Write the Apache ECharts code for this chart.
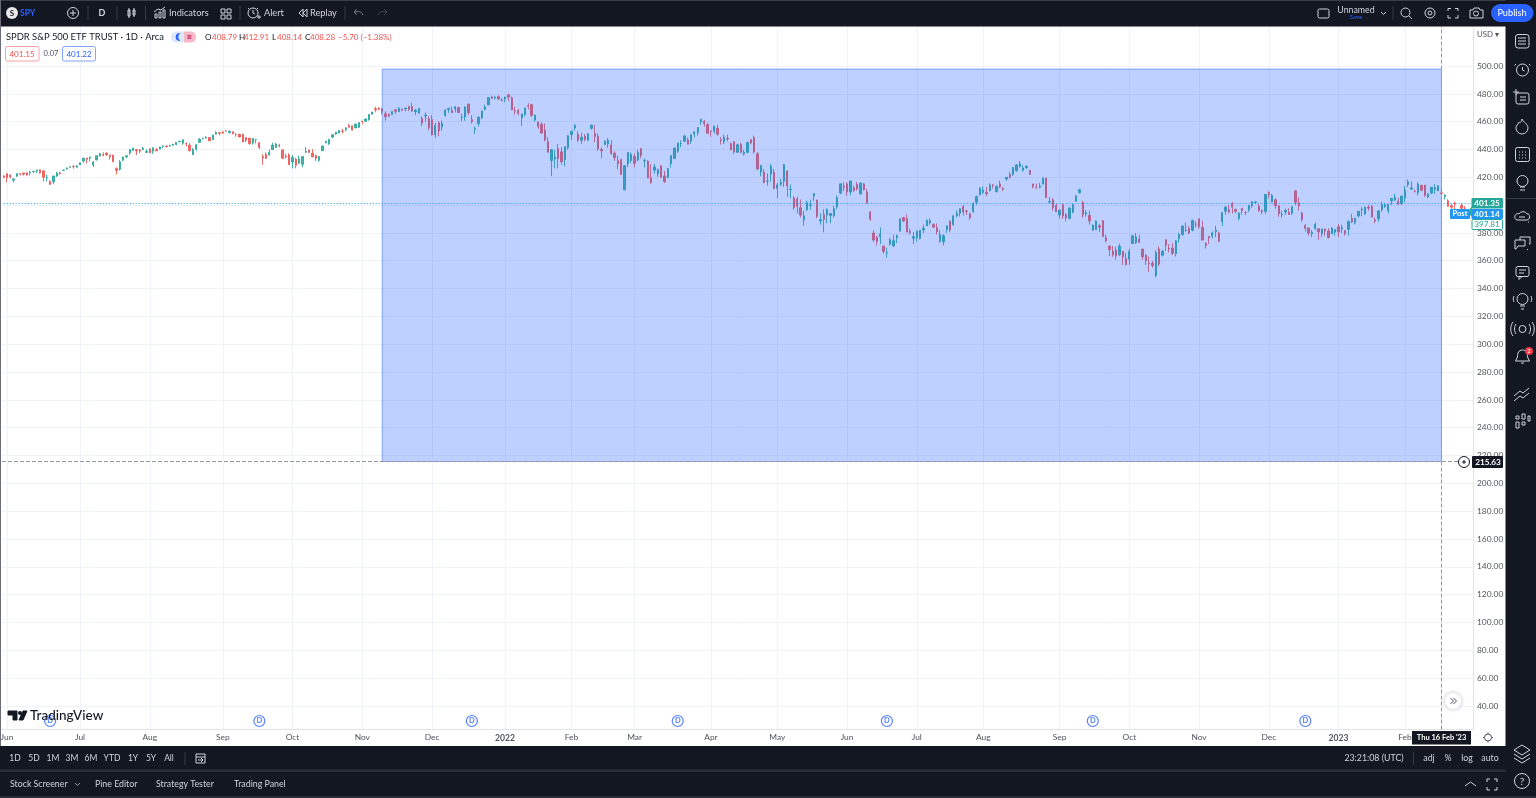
<!DOCTYPE html>
<html>
<head>
<meta charset="utf-8">
<title>SPY</title>
<script src="https://cdn.jsdelivr.net/npm/echarts@6/dist/echarts.min.js"></script>
<style>
  html, body { margin: 0; padding: 0; background: #131722; overflow: hidden; }
  #chart { width: 1536px; height: 798px; filter: blur(0.45px); }
</style>
</head>
<body>
<div id="chart"></div>
<script>
// month labels on the time axis and how many daily bars each one holds
const monthLabels = ["", "Jun", "Jul", "Aug", "Sep", "Oct", "Nov", "Dec", "2022", "Feb", "Mar", "Apr", "May", "Jun", "Jul", "Aug", "Sep", "Oct", "Nov", "Dec", "2023", "Feb", ""];
const monthBars = [1, 22, 21, 22, 21, 21, 21, 22, 20, 19, 23, 20, 21, 21, 20, 23, 21, 21, 21, 21, 20, 19, 2];

// daily bars: open, close, low, high
const ohlc2021 = [
  [421.0,420.0,419.4,421.3],
  [422.6,419.7,416.3,422.7],[421.7,420.3,419.2,421.9],[417.9,418.8,416.3,419.0],[420.8,422.6,420.3,422.9],[422.6,422.2,421.2,422.8],[423.1,422.3,421.2,423.2],[423.2,421.6,421.2,423.3],[423.0,423.6,421.4,424.6],[424.2,424.3,423.1,424.4],[424.4,425.3,423.1,425.4],[425.4,423.1,422.8,425.5],[424.6,420.0,417.0,424.9],[419.6,420.0,417.0,422.0],[417.1,414.9,414.7,417.8],[416.8,420.9,415.1,421.1],[420.9,423.1,420.3,424.0],[423.2,422.6,421.9,424.1],[424.9,425.1,424.5,425.5],[425.9,426.6,425.6,427.1],[427.2,427.5,427.0,427.9],[427.9,427.7,426.2,428.6],[427.2,428.1,427.0,428.8],
  [428.9,430.4,428.8,430.6],[431.7,433.7,430.5,434.1],[433.8,432.9,430.0,434.0],[433.7,434.5,431.5,434.8],[428.8,430.9,427.5,431.7],[432.5,435.5,432.2,435.8],[435.4,437.1,434.9,437.3],[436.2,435.6,435.2,437.9],[437.4,436.2,435.3,437.9],[436.0,434.8,432.7,436.1],[436.0,431.3,430.9,436.1],[426.2,425.0,422.0,427.1],[425.7,431.1,424.8,432.4],[432.3,434.6,431.6,434.7],[434.7,435.5,433.7,435.7],[437.5,439.9,436.2,440.3],[439.3,441.0,439.2,441.2],[439.9,439.0,436.0,440.1],[439.7,438.8,437.3,440.3],[439.8,440.7,439.7,441.8],[437.9,438.5,437.8,440.1],
  [440.3,437.6,437.3,440.9],[438.8,441.2,436.8,441.3],[439.8,439.0,438.9,441.1],[440.2,441.8,440.1,441.9],[442.1,442.5,441.0,442.9],[442.5,442.1,441.5,442.8],[442.6,442.7,441.9,443.4],[443.0,443.8,442.6,443.9],[443.6,445.1,442.9,445.3],[445.6,445.9,445.1,446.0],[444.5,447.0,443.4,447.1],[444.2,444.0,442.3,445.0],[443.0,439.2,438.5,444.6],[436.3,439.9,436.0,441.1],[440.2,443.4,439.0,443.7],[445.2,447.3,444.9,448.2],[447.6,448.0,447.5,448.4],[448.2,448.9,447.9,449.5],[448.6,446.3,446.2,448.9],[447.1,450.3,446.9,450.6],[451.0,452.2,450.8,453.1],[452.1,451.6,450.2,452.3],
  [452.6,451.8,451.3,453.1],[453.3,453.2,452.9,454.0],[452.0,453.1,451.6,453.6],[452.7,451.5,450.8,452.9],[450.9,450.9,449.1,451.7],[450.7,449.0,448.9,451.4],[451.0,445.4,445.3,451.2],[448.6,446.6,445.3,448.9],[448.1,444.2,443.4,448.3],[444.6,447.9,443.4,448.4],[447.0,447.2,444.4,447.6],[444.9,441.4,440.3,445.0],[434.9,434.0,428.9,436.6],[436.5,433.6,433.1,437.9],[436.1,437.9,435.5,440.0],[439.9,443.2,439.8,444.9],[441.4,443.9,441.2,444.7],[442.8,442.6,441.6,444.1],[439.7,433.7,433.0,440.0],[435.2,434.5,433.7,437.0],[436.0,429.1,428.8,437.3],
  [431.0,434.2,426.4,436.0],[433.0,428.6,426.4,434.0],[430.2,433.1,429.5,435.5],[429.3,434.9,427.1,435.1],[438.0,438.7,437.4,441.7],[439.5,437.9,437.6,439.9],[437.2,434.7,434.6,440.3],[435.7,433.6,431.7,436.1],[432.2,434.9,431.2,435.3],[439.1,442.5,439.0,442.7],[444.8,445.9,444.4,446.3],[444.0,447.2,443.3,447.6],[448.9,450.6,448.1,450.7],[451.1,452.4,450.4,452.7],[451.8,453.6,451.7,453.8],[453.1,453.1,451.6,454.7],[454.3,455.6,453.1,455.9],[457.2,456.0,455.7,458.5],[457.0,453.9,453.8,457.2],[455.5,458.3,455.5,458.5],[455.9,459.3,455.6,459.6],
  [460.3,460.0,458.2,460.7],[460.2,461.9,460.0,462.2],[461.3,465.2,460.8,465.2],[465.4,466.9,465.0,467.0],[469.3,468.5,466.7,470.7],[469.7,468.9,468.2,470.2],[469.3,467.4,465.2,469.6],[465.6,463.6,460.7,467.4],[465.2,463.8,463.7,465.9],[465.1,467.3,464.8,467.4],[468.6,467.4,465.6,468.8],[467.2,469.3,467.1,470.5],[469.0,468.1,467.9,469.2],[469.2,469.7,467.5,470.0],[471.0,468.9,467.6,471.1],[470.9,467.6,467.0,473.5],[467.2,468.2,464.7,469.1],[466.1,469.4,465.9,469.6],[462.3,459.0,456.8,463.9],[464.1,464.6,460.0,466.6],[462.0,455.6,453.9,464.0],
  [461.6,450.5,450.1,464.7],[450.7,457.4,448.3,459.1],[459.2,453.4,449.5,460.3],[456.1,458.8,453.5,460.8],[464.4,468.3,463.5,468.9],[468.7,469.5,466.3,470.0],[468.2,466.4,466.3,470.9],[469.2,470.7,466.6,471.0],[470.2,466.6,466.3,470.6],[463.1,463.4,460.3,465.7],[463.4,470.6,460.7,471.0],[472.6,466.5,464.9,472.9],[461.5,459.9,458.6,464.6],[454.5,455.0,451.1,456.5],[458.6,463.1,456.5,464.0],[462.8,467.7,461.9,467.8],[468.8,470.6,468.2,472.2],[472.1,477.3,472.0,477.3],[477.7,476.9,476.2,478.8],[477.0,477.5,475.8,478.6],[477.9,476.2,475.9,479.0],[475.6,475.0,474.7,476.9]
];
const ohlc2022 = [
  [476.3,477.7,473.9,477.9],[479.2,477.6,474.8,480.0],[477.2,468.4,468.3,478.0],[467.9,467.9,465.0,470.8],[468.0,466.1,464.7,469.2],[462.7,465.5,456.9,465.7],[465.2,469.8,463.7,469.9],[471.6,471.0,468.9,473.2],[472.2,464.5,463.4,472.9],[461.2,464.7,460.0,465.1],[459.7,456.5,455.0,460.0],[458.1,451.8,451.4,459.6],[453.8,446.8,445.8,458.6],[445.6,438.0,437.9,448.9],[432.0,439.8,420.8,440.4],[433.1,434.5,426.4,439.7],[440.7,433.4,426.4,444.0],[438.3,431.2,429.2,441.6],[432.7,442.0,427.9,442.0],[441.2,449.9,439.9,450.3],
  [450.7,453.0,446.9,453.6],[455.5,457.4,453.5,458.1],[450.9,446.6,445.2,453.0],[446.7,448.7,443.8,452.0],[449.5,447.3,445.9,451.0],[446.7,450.9,445.9,451.9],[455.2,457.5,454.3,457.9],[451.3,449.3,445.2,457.7],[449.4,440.5,438.9,451.6],[439.9,439.0,433.7,441.6],[443.7,446.1,443.1,446.3],[443.9,446.6,441.4,448.1],[443.2,437.1,436.1,446.6],[437.3,434.2,431.8,438.7],[431.9,429.6,425.6,435.5],[432.7,422.0,421.7,433.3],[411.0,428.3,410.6,428.8],[429.6,437.8,427.3,438.0],[432.0,436.6,430.4,437.8],
  [435.0,430.0,427.2,437.2],[432.4,437.9,431.4,439.7],[440.5,435.7,433.6,441.1],[431.8,432.2,427.1,433.4],[431.6,419.4,419.4,432.3],[419.6,416.3,415.1,429.6],[425.1,427.4,422.8,429.5],[422.5,425.5,420.4,426.4],[428.1,420.1,419.5,428.8],[420.9,417.0,415.8,424.6],[419.8,426.2,419.5,426.8],[429.9,435.6,427.0,435.7],[433.6,441.1,433.2,441.1],[438.8,444.5,437.6,444.9],[444.3,444.4,441.7,446.5],[445.9,449.6,445.4,450.6],[446.9,443.8,443.7,448.5],[445.9,450.5,444.0,450.6],[451.2,452.7,448.7,453.0],[452.1,455.9,450.1,455.9],[460.0,461.6,457.7,462.1],[460.3,458.7,456.5,461.2],[457.9,451.6,451.6,458.8],
  [453.3,452.9,449.1,453.5],[453.1,456.8,451.5,456.9],[455.2,451.0,449.9,457.8],[446.9,446.5,443.5,448.9],[445.6,448.8,443.8,450.7],[448.0,447.6,445.9,450.6],[444.1,439.9,439.4,445.0],[445.6,438.3,436.7,445.8],[438.0,443.3,437.8,444.1],[443.6,437.8,437.7,444.7],[436.8,438.0,435.7,439.8],[437.9,445.0,437.7,445.8],[446.9,444.7,443.7,447.6],[448.6,438.1,437.0,450.0],[436.9,426.0,425.0,438.1],[423.7,428.5,420.8,428.7],[423.7,416.1,416.0,425.9],[417.2,417.3,414.0,422.9],[422.3,427.8,417.0,429.7],[423.6,412.0,411.2,425.9],
  [412.1,414.5,405.0,415.9],[415.0,416.4,413.6,418.9],[417.1,429.1,413.0,429.7],[424.6,413.8,405.8,425.0],[411.1,411.3,405.0,414.8],[405.1,398.2,396.6,406.4],[404.5,399.1,394.0,406.1],[398.1,392.8,391.1,404.0],[389.4,392.3,385.2,395.8],[396.7,401.7,395.6,403.2],[399.9,400.1,396.6,404.0],[406.5,408.3,403.0,408.6],[403.5,391.9,390.6,404.0],[388.6,389.5,386.0,394.1],[393.2,389.6,380.5,397.0],[392.8,396.9,387.0,397.7],[392.6,393.9,386.9,394.0],[392.3,397.4,391.1,399.5],[398.7,405.3,397.0,407.0],[408.7,415.3,407.8,415.4],[413.6,412.9,410.1,416.5],
  [415.2,409.6,406.8,416.4],[409.4,417.4,407.0,417.4],[412.4,410.5,409.7,414.0],[414.8,411.8,410.3,416.6],[408.1,415.7,407.5,416.5],[415.2,411.2,410.4,415.8],[409.3,401.4,401.3,411.7],[394.9,389.8,388.6,395.8],[379.9,375.0,373.6,381.8],[376.9,373.9,371.0,377.9],[377.3,379.2,372.0,383.9],[370.5,366.7,364.9,371.0],[365.5,365.9,362.2,369.4],[371.9,375.1,371.0,376.5],[370.6,374.4,370.2,378.7],[376.6,378.1,372.7,378.8],[381.4,390.1,381.0,390.1],[391.1,388.6,387.9,391.4],[390.2,380.7,380.4,393.2],[381.2,380.3,378.8,383.0],[376.2,377.3,372.0,380.7],
  [376.6,381.2,373.8,381.7],[375.9,382.0,375.3,382.0],[382.1,383.3,379.9,385.9],[385.1,389.0,385.0,389.8],[387.3,388.7,385.9,390.6],[385.9,384.2,383.6,386.9],[383.7,380.8,378.8,386.9],[374.0,378.8,373.0,381.9],[373.6,377.9,371.0,379.1],[382.5,385.1,380.0,385.3],[388.4,382.0,380.5,389.1],[386.1,392.3,385.0,392.9],[392.5,394.0,391.0,396.3],[394.2,397.4,391.7,397.7],[398.9,395.1,392.5,400.2],[395.8,395.6,393.0,396.5],[393.8,390.9,389.5,394.1],[395.3,401.0,394.5,402.0],[402.0,406.1,400.0,406.8],[407.6,412.0,406.6,413.0],
  [409.2,410.8,408.0,413.4],[409.1,408.1,406.5,413.0],[410.3,414.5,410.0,415.7],[414.4,414.2,412.0,415.1],[409.7,413.5,409.0,414.1],[415.2,413.0,412.0,417.6],[412.2,411.4,410.0,412.8],[418.8,420.0,417.5,420.1],[422.0,420.0,419.0,424.0],[422.0,427.1,421.0,427.2],[424.8,428.9,424.0,429.4],[427.7,429.7,427.0,431.7],[425.0,426.7,424.0,428.6],[426.9,427.9,426.0,428.6],[425.0,422.1,421.9,425.3],[415.2,413.4,412.0,415.3],[412.9,412.4,411.8,415.4],[412.9,413.7,412.0,416.0],[415.2,419.5,414.9,419.6],[419.4,405.3,405.2,419.6],[402.2,402.6,401.2,405.8],[403.8,398.2,395.9,405.0],[399.9,395.2,394.9,401.0],
  [392.9,396.4,390.4,396.8],[400.3,392.2,390.0,400.9],[393.1,390.8,388.4,394.2],[390.4,397.8,389.9,398.6],[394.9,400.4,394.1,400.9],[402.7,406.6,402.7,407.3],[408.8,411.0,408.5,411.7],[401.8,393.1,391.0,403.1],[393.6,394.6,391.6,396.6],[392.6,388.6,386.0,395.9],[381.9,385.6,381.8,386.0],[382.3,388.6,382.2,389.0],[385.1,384.1,380.7,386.3],[388.7,377.4,377.3,389.3],[376.6,374.2,373.3,378.7],[370.6,368.0,363.3,370.7],[367.0,364.3,362.8,370.7],[367.8,363.4,360.9,370.2],[364.4,370.5,363.3,372.3],[366.8,362.8,357.0,367.1],[361.8,357.2,356.6,365.7],
  [361.1,366.6,357.1,368.6],[372.4,378.0,372.0,378.0],[373.0,377.1,372.0,380.0],[375.6,373.2,372.8,378.7],[368.4,362.8,360.7,368.5],[364.0,360.0,357.0,364.9],[358.2,357.7,352.0,363.0],[358.2,356.6,355.0,359.8],[349.2,366.0,348.1,367.5],[368.5,357.6,356.0,370.3],[364.0,366.8,363.0,368.0],[375.1,371.1,367.0,375.5],[368.9,368.5,366.0,371.9],[369.0,365.4,364.0,372.7],[365.1,374.3,363.0,374.8],[375.9,378.9,373.0,380.1],[378.8,384.9,378.0,385.3],[381.6,382.0,381.0,387.6],[383.1,380.0,379.0,385.0],[382.0,389.0,381.0,389.5],[386.4,386.2,384.0,388.4],
  [390.1,384.5,383.0,390.4],[383.9,374.9,374.8,388.6],[372.4,371.0,368.8,373.4],[377.4,376.4,372.0,377.9],[377.7,380.0,376.0,381.0],[381.1,382.0,377.0,385.1],[379.9,374.1,373.6,381.0],[388.1,394.7,385.0,394.8],[395.6,398.5,393.0,399.4],[396.7,395.1,394.0,400.2],[401.2,398.5,394.0,402.3],[396.8,395.5,394.0,397.5],[390.5,394.2,389.0,394.9],[397.7,396.0,393.0,397.8],[394.6,394.6,393.0,395.6],[396.6,399.9,395.0,400.0],[399.6,402.4,398.0,403.0],[401.8,402.3,401.0,402.9],[399.1,395.9,395.1,400.8],[396.1,395.2,393.5,396.9],[395.5,407.7,393.5,407.7],
  [408.8,407.4,404.8,410.0],[402.2,406.9,402.1,407.9],[403.9,399.6,397.3,404.9],[399.4,393.8,391.6,400.0],[392.9,393.2,391.0,396.0],[395.1,396.2,393.0,397.4],[394.9,393.3,393.0,397.7],[394.1,399.0,393.0,399.0],[410.2,402.0,399.9,410.5],[401.6,399.4,396.0,405.5],[394.3,389.6,388.0,395.2],[385.2,383.3,381.0,386.5],[383.5,380.0,378.0,384.0],[379.5,380.5,377.0,382.0],[383.3,386.2,382.0,387.4],[383.0,380.7,375.0,383.2],[379.7,382.9,377.0,383.0],[382.8,381.4,378.0,383.1],[381.3,376.7,376.0,383.4],[379.6,383.4,379.0,384.4],[380.6,382.4,378.0,382.8]
];
const ohlc2023 = [
  [384.4,380.8,377.0,386.4],[383.2,383.8,380.0,385.9],[381.7,379.4,378.0,381.8],[382.6,388.1,378.0,389.3],[390.4,387.9,387.0,393.7],[387.3,390.6,386.0,390.7],[392.2,395.5,391.0,395.6],[396.7,397.0,392.0,398.5],[393.6,398.5,393.0,399.1],[398.5,397.8,396.0,400.2],[399.0,391.5,391.0,400.1],[389.4,388.6,387.0,391.1],[390.1,395.9,388.0,396.0],[396.7,400.6,395.0,402.6],[398.9,400.2,398.0,401.6],[395.9,400.4,394.0,400.7],[403.1,404.8,400.0,404.9],[403.7,405.7,403.0,408.2],[402.8,400.6,400.0,405.1],[401.1,406.5,400.0,406.5],
  [405.2,410.8,402.0,413.7],[414.9,416.8,413.0,418.3],[411.6,412.4,411.0,417.0],[409.8,409.8,409.0,411.3],[408.9,415.2,407.0,416.5],[414.2,410.7,410.0,414.5],[414.4,407.1,406.0,414.5],[405.9,408.0,405.0,408.4],[408.7,412.8,408.0,412.9],[411.2,412.6,408.0,415.1],[410.4,414.0,410.0,414.1],[408.8,408.3,408.1,412.9],[406.1,407.3,404.0,407.5],[403.1,399.1,399.0,404.2],[399.5,398.5,396.0,401.1],[401.6,400.7,397.0,402.2],[395.4,396.4,393.6,397.3],[399.9,397.7,396.0,401.3],[397.2,396.3,396.0,399.3],
  [395.4,394.7,392.0,396.7],[392.7,397.8,392.0,398.7]
];

const priceTicks = [500, 480, 460, 440, 420, 400, 380, 360, 340, 320, 300, 280, 260, 240, 220, 200, 180, 160, 140, 120, 100, 80, 60, 40];
const dividendBars = [14, 77, 141, 203, 266, 328, 392];
// the drawn rectangle: first and last bar, top and bottom price
const rangeBars = [114, 433];
const rangePrices = [497.8, 215.63];
const lastPrice = 401.15;

const FONT = "Lato, 'Noto Sans', sans-serif";
const DARK = "#131722", LIGHT = "#d1d4dc", UP = "#26a69a", DOWN = "#ef5350", BLUE = "#2962ff";

const categories = [];
monthLabels.forEach((label, m) => {
  for (let k = 0; k < monthBars[m]; k++) categories.push(k === 0 ? label : "");
});
const candles = [...ohlc2021, ...ohlc2022, ...ohlc2023];
const isMonthStart = (index) => categories[index] !== "";

// small builders for the terminal chrome round the chart
function txt(x, y, text, size, fill, extra) {
  return { type: "text", x, y, z: 100, silent: true, style: Object.assign({ text, fontSize: size, fill, fontFamily: FONT, align: "left", verticalAlign: "middle" }, extra) };
}
function box(x, y, w, h, fill, stroke, r, z) {
  return { type: "rect", z: z || 90, silent: true, shape: { x, y, width: w, height: h, r: r || 0 }, style: { fill, stroke: stroke || null, lineWidth: 1 } };
}
function ring(cx, cy, r, stroke, fill) {
  return { type: "circle", z: 100, silent: true, shape: { cx, cy, r }, style: { fill: fill || "none", stroke, lineWidth: 1 } };
}
// the graphic component has no plain svg path type, so every icon registers its own shape
let icoCount = 0;
function ico(d, stroke, fill) {
  const name = "ico" + icoCount++;
  echarts.graphic.registerShape(name, echarts.graphic.extendPath(d, {}));
  return { type: name, z: 100, silent: true, style: { fill: fill || "none", stroke: stroke || LIGHT, lineWidth: 1 } };
}

const chrome = [
  // panels
  box(0, 0, 1536, 26.5, DARK),
  box(0, 0, 1536, 1, "#3b3e46"),
  box(0, 0, 1, 798, "#6a6d78"),
  box(1505.5, 0, 31, 798, DARK),
  box(0, 746, 1536, 52, DARK),
  box(0, 769.5, 1506, 2.5, "#2a2e39"),
  box(1506, 198, 30, 1, "#363a45"),
  box(0, 796, 1536, 2, "#2a2e39"),

  // top toolbar
  { type: "circle", z: 100, silent: true, shape: { cx: 12, cy: 13, r: 6 }, style: { fill: "#e8e8e8" } },
  txt(12, 13.5, "S", 8, DARK, { align: "center", fontWeight: "bold" }),
  txt(20, 13, "SPY", 8.5, BLUE, { fontWeight: "bold" }),
  ring(73, 13, 5.5, LIGHT),
  ico("M70 13H76M73 10V16"),
  box(87.5, 6, 1, 14, "#363a45"),
  txt(102, 13, "D", 9, LIGHT, { align: "center", fontWeight: "bold" }),
  box(116.5, 6, 1, 14, "#363a45"),
  ico("M128 10h2v6h-2zM129 8v10M133 10h2v5h-2zM134 8v9"),
  box(145, 6, 1, 14, "#363a45"),
  ico("M155 18v-4h2v4zM159 18v-6h2v6zM163 18v-8h2v8zM154 12l4-3 3 1 4-3"),
  txt(169, 13, "Indicators", 9.2, LIGHT),
  ico("M221 9h4v4h-4zM227 9h4v4h-4zM221 15h4v4h-4zM227 15h4v4h-4z"),
  box(239.5, 6, 1, 14, "#363a45"),
  ring(253, 13, 5, LIGHT),
  ico("M253 10v3l2 1M249 8l-1 1M257 8l1 1M257 17h4M259 15v4"),
  txt(264, 13, "Alert", 9.2, LIGHT),
  ico("M303 9l-4 4 4 4zM307 9l-4 4 4 4z"),
  txt(310, 13, "Replay", 9.2, LIGHT),
  box(344.5, 6, 1, 14, "#363a45"),
  ico("M363 15c-1-3-3-4-8-3M357 9l-3 3 3 3", "#787b86"),
  ico("M378 15c1-3 3-4 8-3M384 9l3 3-3 3", "#434651"),
  box(1318, 9, 11, 9, "none", LIGHT, 1.5, 100),
  txt(1356, 10, "Unnamed", 8.8, LIGHT, { align: "center" }),
  txt(1356, 17.5, "Save", 6, BLUE, { align: "center" }),
  ico("M1381 12l2.5 2.5 2.5-2.5"),
  box(1392.5, 6, 1, 14, "#363a45"),
  ring(1405.5, 12.5, 4.5, LIGHT),
  ico("M1409 16l3 3"),
  ring(1430, 13, 5, LIGHT),
  ring(1430, 13, 2, LIGHT),
  ico("M1448 11V8.500h3M1455 8.500h3V11M1458 15v3h-3M1451 18h-3v-3"),
  ico("M1470 10h3l1-2h5l1 2h3v8h-13z"),
  ring(1476, 13.500, 2.500, LIGHT),
  box(1491, 4, 42.500, 18, BLUE, null, 9, 95),
  txt(1512, 13, "Publish", 9.2, "#fff", { align: "center" }),

  // legend over the pane
  txt(6, 37, "SPDR S&P 500 ETF TRUST · 1D · Arca", 9.4, "#131722"),
  box(171, 31.500, 13, 11, "#dde8ff", null, [5, 0, 0, 5], 95),
  box(184, 31.500, 12, 11, "#f7b9c7", null, [0, 5, 5, 0], 95),
  ico("M179.500 33.500a3.500 3.500 0 1 0 0 7a4.500 4.500 0 0 1 0-7z", BLUE, BLUE),
  txt(189, 37, "≡", 9, "#c2185b", { align: "center", fontWeight: "bold" }),
  txt(205, 37.500, "O", 8.200, DARK), txt(212, 37.500, "408.79", 8, DOWN),
  txt(239, 37.500, "H", 8.200, DARK), txt(244, 37.500, "412.91", 8, DOWN),
  txt(272, 37.500, "L", 8.200, DARK), txt(277, 37.500, "408.14", 8, DOWN),
  txt(305, 37.500, "C", 8.200, DARK), txt(310, 37.500, "408.28", 8, DOWN),
  txt(338, 37.500, "−5.70 (−1.38%)", 8, DOWN),
  box(5.500, 46.500, 33.500, 14.500, "#fff", "#f7a0a5", 2, 95),
  txt(22, 54, "401.15", 8, DOWN, { align: "center" }),
  txt(51, 54, "0.07", 7.500, "#50535e", { align: "center" }),
  box(62.500, 46.500, 33, 14.500, "#fff", "#82a3ff", 2, 95),
  txt(79, 54, "401.22", 8, BLUE, { align: "center" }),

  // price axis tags
  txt(1477, 34.500, "USD ▾", 7.800, "#50535e"),
  box(1471.500, 198, 31.500, 10.500, UP, null, 1, 95),
  txt(1487, 203.300, "401.35", 8.200, "#fff", { align: "center", fontWeight: "bold" }),
  box(1450, 209, 20, 10, "#2196f3", null, 1, 95),
  txt(1460, 214, "Post", 7.500, "#fff", { align: "center", fontWeight: "bold" }),
  box(1471.500, 209, 31.500, 10, "#2196f3", null, 1, 95),
  txt(1487, 214, "401.14", 8.200, "#fff", { align: "center", fontWeight: "bold" }),
  box(1472, 219.500, 30.500, 10, "#fff", UP, 1, 95),
  txt(1487, 224.500, "397.81", 8.200, UP, { align: "center" }),
  box(1472, 456, 31, 12, DARK, null, 1, 95),
  txt(1488, 462, "215.63", 8.200, "#fff", { align: "center", fontWeight: "bold" }),
  ring(1464, 462, 5.500, DARK, "#fff"),
  ico("M1462 462h4M1464 460v4", DARK),

  // logo, scroll button, date tag
  ico("M8 711h9v9h-4v-5h-5zM23 711h4l-4 9h-4z", DARK, DARK),
  { type: "circle", z: 100, silent: true, shape: { cx: 20, cy: 713, r: 2 }, style: { fill: DARK } },
  txt(30, 715.500, "TradingView", 13.500, DARK, { fontWeight: 500 }),
  { type: "circle", z: 95, silent: true, shape: { cx: 1453, cy: 701, r: 8 }, style: { fill: "#fff", shadowBlur: 5, shadowColor: "rgba(0,0,0,.25)" } },
  ico("M1450.500 698l3 3-3 3M1453.500 698l3 3-3 3", "#50535e"),
  box(1412, 731, 59, 13.500, DARK, null, 0, 95),
  txt(1441.500, 738, "Thu 16 Feb '23", 7.500, "#fff", { align: "center", fontWeight: "bold" }),
  ring(1488, 737.500, 3.500, "#50535e"),
  ico("M1488 732.500v1.500M1488 741v1.500M1483 737.500h1.500M1491.500 737.500h1.500", "#50535e"),

  // date range bar
  ...[["1D", 15], ["5D", 34], ["1M", 53], ["3M", 72], ["6M", 91], ["YTD", 112], ["1Y", 133], ["5Y", 151], ["All", 169]].map(([t, x]) => txt(x, 758, t, 8.500, LIGHT, { align: "center" })),
  box(184.500, 752, 1, 13, "#363a45"),
  ico("M196 754h9v9h-9zM196 757h9M198 760h5M201 758l2 2-2 2"),
  txt(1374, 758, "23:21:08 (UTC)", 8.800, LIGHT, { align: "center" }),
  box(1413, 752, 1, 13, "#363a45"),
  txt(1429, 758, "adj", 8.800, LIGHT, { align: "center" }),
  txt(1448, 758, "%", 8.800, LIGHT, { align: "center" }),
  txt(1467, 758, "log", 8.800, LIGHT, { align: "center" }),
  txt(1490, 758, "auto", 8.800, LIGHT, { align: "center" }),

  // bottom tabs
  txt(10, 784, "Stock Screener", 8.800, LIGHT),
  ico("M75 783l2.500 2.500 2.500-2.500", "#9598a1"),
  txt(95, 784, "Pine Editor", 8.800, LIGHT),
  txt(156, 784, "Strategy Tester", 8.800, LIGHT),
  txt(234, 784, "Trading Panel", 8.800, LIGHT),
  ico("M1465 786l5.500-4 5.500 4"),
  ico("M1487 782v-3h3M1494 779h3v3M1497 787v3h-3M1490 790h-3v-3"),

  // right hand tool column
  box(1515.500, 34.500, 13.500, 13.500, "none", LIGHT, 2.500, 100),
  ico("M1518 38h8M1518 41h8M1518 44h8"),
  ring(1522.500, 70, 6, LIGHT),
  ico("M1522.500 67v3l2 1M1516 64l-1.500 1.500M1529 64l1.500 1.500"),
  box(1516, 93, 13, 11, "none", LIGHT, 2, 100),
  ico("M1513 92h6M1516 89v6M1520 97h6M1520 100h6"),
  ico("M1522 119c1 3 6 5 6 9a6 6 0 0 1-12 0c0-3 2-3 3-6 1 1 2 1 3-3z"),
  box(1515.500, 147.500, 14, 14, "none", LIGHT, 2, 100),
  ico("M1519 152h1M1522 152h1M1525 152h1M1519 155h1M1522 155h1M1525 155h1M1519 158h1M1522 158h1M1525 158h1"),
  ring(1522.500, 181, 5.500, LIGHT),
  ico("M1520 187h5M1520 190h5"),
  ico("M1515 218c-1-4 3-5 4-4 1-3 7-3 8 0 3-1 4 5 0 6h-9c-2 0-3-1-3-2zM1519 217h6M1528 222h1"),
  ico("M1515 240h10v6h-7l-2 3h-1zM1520 240v-3h10v7h-1M1527 249l1 1"),
  box(1516, 266.500, 13, 10, "none", LIGHT, 2, 100),
  ico("M1519 270h7M1519 273h5M1519 276.500v3l3-3"),
  ring(1522.500, 299, 5.500, LIGHT),
  ico("M1514 296c-1 2-1 4 0 6M1531 296c1 2 1 4 0 6M1520 306h5M1521 309h3"),
  ring(1522.500, 329, 3.500, LIGHT),
  ico("M1516 324c-2 3-2 7 0 10M1529 324c2 3 2 7 0 10M1513 322c-3 4-3 10 0 14M1532 322c3 4 3 10 0 14"),
  ico("M1522.500 350c-4 0-5 3-5 7l-2 4h14l-2-4c0-4-1-7-5-7zM1521 363h3"),
  { type: "circle", z: 101, silent: true, shape: { cx: 1529, cy: 351, r: 4 }, style: { fill: "#f23645" } },
  Object.assign(txt(1529, 351.500, "2", 6, "#fff", { align: "center" }), { z: 102 }),
  ico("M1514 396l6-5 3 2 6-5M1514 401l6-5 3 2 6-5"),
  ico("M1516 416h3v3h-3zM1516 422h3v6h-3zM1522 414h3v5h-3zM1522 422h3v3h-3zM1528 416h2v5h-2z"),
  ico("M1522 745l8 5-8 5-8-5zM1514 754l8 5 8-5M1514 758l8 5 8-5"),
  ring(1522, 781, 7.500, LIGHT),
  txt(1522, 781.500, "?", 10, LIGHT, { align: "center" })
];

const chart = echarts.init(document.getElementById("chart"), null, { renderer: "canvas" });

chart.setOption({
  animation: false,
  backgroundColor: "#fff",
  grid: { left: 2, top: 26.500, width: 1471, height: 703, outerBoundsMode: "none" },
  xAxis: {
    type: "category",
    data: categories,
    boundaryGap: true,
    axisLine: { lineStyle: { color: "#e0e3eb" } },
    axisTick: { show: false, alignWithLabel: true, interval: isMonthStart },
    splitLine: { show: true, alignWithLabel: true, interval: isMonthStart, lineStyle: { color: "#f0f3fa" } },
    axisLabel: {
      interval: isMonthStart,
      margin: 4,
      fontFamily: FONT,
      fontSize: 8.400,
      color: "#50535e",
      formatter: (value) => (value.startsWith("20") ? "{y|" + value + "}" : value),
      rich: { y: { fontFamily: FONT, fontSize: 8.600, fontWeight: "bold", color: "#50535e" } }
    }
  },
  yAxis: {
    type: "value",
    position: "right",
    min: 23.000,
    max: 528.400,
    axisLine: { show: true, lineStyle: { color: "#e0e3eb" } },
    axisTick: { show: false, customValues: priceTicks },
    splitLine: { show: true, lineStyle: { color: "#f0f3fa" } },
    axisLabel: {
      customValues: priceTicks,
      margin: 4,
      fontFamily: FONT,
      fontSize: 8.400,
      color: "#50535e",
      formatter: (value) => value.toFixed(2)
    }
  },
  series: [
    {
      name: "SPY",
      type: "candlestick",
      data: candles,
      barWidth: 1.800,
      itemStyle: { color: UP, color0: DOWN, borderColor: UP, borderColor0: DOWN, borderWidth: 1, opacity: 0.85 }
    },
    {
      // the drawn blue rectangle sits over the candles
      name: "range",
      type: "line",
      z: 5,
      data: [],
      silent: true,
      markArea: {
        silent: true,
        z: 10,
        itemStyle: { color: "rgba(41,98,255,0.3)", borderColor: "rgba(41,98,255,0.5)", borderWidth: 1 },
        data: [[{ xAxis: rangeBars[0], yAxis: rangePrices[0] }, { xAxis: rangeBars[1], yAxis: rangePrices[1] }]]
      },
      markLine: {
        silent: true,
        z: 11,
        symbol: "none",
        label: { show: false },
        lineStyle: { color: "#9598a1", type: "dashed", width: 1 },
        data: [{ yAxis: rangePrices[1] }, { xAxis: rangeBars[1] }]
      }
    },
    {
      // last price line, dotted right across the pane
      name: "last",
      type: "line",
      z: 12,
      silent: true,
      symbol: "none",
      lineStyle: { color: "#2196f3", type: [1, 2], width: 1 },
      data: [[0, lastPrice], [categories.length - 1, lastPrice]]
    },
    {
      name: "dividends",
      type: "scatter",
      data: dividendBars.map((bar) => [bar, 29.100]),
      symbol: "circle",
      symbolSize: 11,
      z: 6,
      itemStyle: { color: "#fff", borderColor: BLUE, borderWidth: 1.200 },
      label: { show: true, position: "inside", formatter: "D", color: BLUE, fontSize: 7.500, fontFamily: FONT, fontWeight: "bold" }
    }
  ],
  graphic: { elements: chrome }
});
</script>
</body>
</html>
